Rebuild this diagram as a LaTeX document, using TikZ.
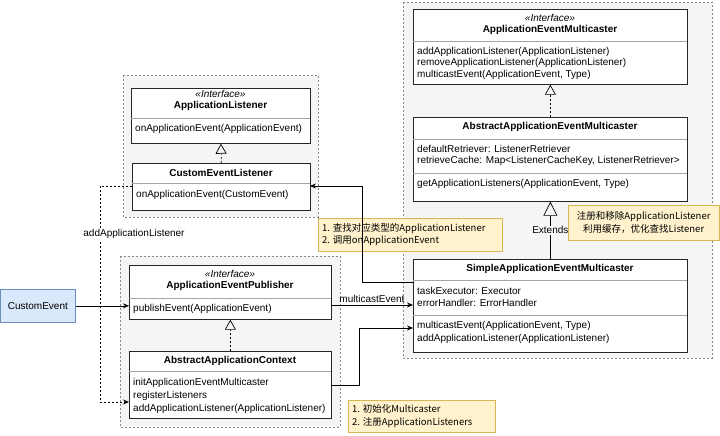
\documentclass[tikz,border=0pt]{standalone}
\usepackage{fontspec}
\setmainfont{Liberation Sans}
\newfontfamily\cjk{Noto Sans CJK SC}
\usetikzlibrary{arrows.meta}
\definecolor{grpfill}{HTML}{F5F5F5}
\definecolor{grpline}{HTML}{888888}
\definecolor{notefill}{HTML}{FFF2CC}
\definecolor{noteline}{HTML}{D6B656}
\definecolor{evfill}{HTML}{DAE8FC}
\definecolor{evline}{HTML}{6C8EBF}
\tikzset{
  group/.style={draw=grpline,fill=grpfill,dashed,dash pattern=on 2pt off 2pt},
  cls/.style={draw=black!85,fill=white,line width=0.7pt},
  sep/.style={draw=black!35,line width=0.5pt},
  txt/.style={anchor=west,inner sep=0pt,font=\fontsize{10}{12}\selectfont},
  title/.style={inner sep=0pt,font=\fontsize{10}{12}\selectfont\bfseries},
  iface/.style={inner sep=0pt,font=\fontsize{10}{12}\selectfont\itshape},
  note/.style={draw=noteline,fill=notefill,inner sep=0pt},
  flow/.style={-{Stealth[length=6pt,width=5pt]},line width=0.7pt},
  realize/.style={dashed,dash pattern=on 2pt off 2pt,line width=0.7pt,-{Triangle[open,length=10pt,width=11pt]}},
  extend/.style={line width=0.7pt,-{Triangle[open,length=14pt,width=14pt]}},
}
\newcommand\ifc{\textless\textless Interface\textgreater\textgreater}
\begin{document}
\begin{tikzpicture}[x=1pt,y=-1pt]
\useasboundingbox (0,0) rectangle (720,436);
% groups
\draw[group] (123,75) rectangle (318,217);
\draw[group] (120,256) rectangle (340,427);
\draw[group] (403,2) rectangle (712,358);
% listener side
\node[cls,minimum width=179pt,minimum height=55pt,anchor=north west] (al) at (131,88) {};
\draw[sep] (131,118) -- (310,118);
\node[iface] (alI) at (220.5,94) {\ifc};
\node[title] (alT) at (220.5,106) {ApplicationListener};
\node[txt] (alM) at (135,129) {onApplicationEvent(ApplicationEvent)};
\node[cls,minimum width=178pt,minimum height=47pt,anchor=north west] (cel) at (132,163) {};
\draw[sep] (132,183) -- (310,183);
\node[title] (celT) at (221,173) {CustomEventListener};
\node[txt] (celM) at (136,195) {onApplicationEvent(CustomEvent)};
\draw[realize] (cel.north) -- (al.south);
% publisher side
\node[cls,minimum width=202pt,minimum height=54pt,anchor=north west] (aep) at (129,265) {};
\draw[sep] (129,298) -- (331,298);
\node[iface] (aepI) at (230,274) {\ifc};
\node[title] (aepT) at (230,286) {ApplicationEventPublisher};
\node[txt] (aepM) at (133,309) {publishEvent(ApplicationEvent)};
\node[cls,minimum width=202pt,minimum height=67pt,anchor=north west] (aac) at (129,351) {};
\draw[sep] (129,371) -- (331,371);
\node[title] (aacT) at (230,361) {AbstractApplicationContext};
\node[txt] (aacM1) at (133,383) {initApplicationEventMulticaster};
\node[txt] (aacM2) at (133,396) {registerListeners};
\node[txt] (aacM3) at (133,409) {addApplicationListener(ApplicationListener)};
\draw[realize] (aac.north) -- (aep.south);
% multicaster side
\node[cls,minimum width=274pt,minimum height=75pt,anchor=north west] (aem) at (413,9) {};
\draw[sep] (413,41) -- (687,41);
\node[iface] (aemI) at (550,18) {\ifc};
\node[title] (aemT) at (550,30) {ApplicationEventMulticaster};
\node[txt] (aemM1) at (417,52) {addApplicationListener(ApplicationListener)};
\node[txt] (aemM2) at (417,63) {removeApplicationListener(ApplicationListener)};
\node[txt] (aemM3) at (417,75) {multicastEvent(ApplicationEvent, Type)};
\node[cls,minimum width=274pt,minimum height=84pt,anchor=north west] (aaem) at (413,117) {};
\draw[sep] (413,139) -- (687,139);
\draw[sep] (413,173) -- (687,173);
\node[title] (aaemT) at (550,127) {AbstractApplicationEventMulticaster};
\node[txt] (aaemF1) at (417,149) {defaultRetriever: ListenerRetriever};
\node[txt] (aaemF2) at (417,161) {retrieveCache: Map<ListenerCacheKey, ListenerRetriever>};
\node[txt] (aaemM) at (417,184) {getApplicationListeners(ApplicationEvent, Type)};
\draw[realize] (aaem.north) -- (aem.south);
\node[cls,minimum width=274pt,minimum height=93pt,anchor=north west] (saem) at (413,259) {};
\draw[sep] (413,280) -- (687,280);
\draw[sep] (413,315) -- (687,315);
\node[title] (saemT) at (550,269) {SimpleApplicationEventMulticaster};
\node[txt] (saemF1) at (417,291) {taskExecutor: Executor};
\node[txt] (saemF2) at (417,303) {errorHandler: ErrorHandler};
\node[txt] (saemM1) at (417,326) {multicastEvent(ApplicationEvent, Type)};
\node[txt] (saemM2) at (417,339) {addApplicationListener(ApplicationListener)};
\draw[extend] (saem.north) -- node[fill=grpfill,inner sep=1pt,font=\fontsize{10}{12}\selectfont] {Extends} (aaem.south);
% event and notes
\node[draw=evline,fill=evfill,line width=0.7pt,minimum width=75pt,minimum height=33pt,anchor=north west,font=\fontsize{10}{12}\selectfont] (ev) at (0,289) {CustomEvent};
\node[note,minimum width=184pt,minimum height=33pt,anchor=north west] (n1) at (318,218) {};
\node[txt,font=\cjk\fontsize{9.5}{12.5}\selectfont,align=left] (n1T) at (322,234.5) {1. 查找对应类型的ApplicationListener\\2. 调用onApplicationEvent};
\node[note,minimum width=151pt,minimum height=35pt,anchor=north west,font=\cjk\fontsize{9.5}{12.5}\selectfont,align=center] (n2) at (568,205) {注册和移除ApplicationListener\\利用缓存，优化查找Listener};
\node[note,minimum width=147pt,minimum height=32pt,anchor=north west] (n3) at (348,400) {};
\node[txt,font=\cjk\fontsize{9.5}{12.5}\selectfont,align=left] (n3T) at (352,416) {1. 初始化Multicaster\\2. 注册ApplicationListeners};
% connectors
\coordinate (pubR) at (331,305);
\coordinate (mcL) at (413,305);
\coordinate (ctxR) at (331,385);
\coordinate (regL) at (413,328);
\coordinate (saemL) at (413,282);
\coordinate (celR) at (310,186);
\coordinate (celL) at (132,186);
\coordinate (aacL) at (129,402);
\draw[flow] (ev.east) -- (ev.east -| aep.west);
\draw[flow] (pubR) -- node[above,inner sep=2pt,font=\fontsize{10}{12}\selectfont] (mcLbl) {multicastEvent} (mcL);
\draw[flow] (ctxR) -- (359,385) |- (regL);
\draw[flow] (saemL) -- (362,282) |- (celR);
\draw[flow,dashed,dash pattern=on 2pt off 2pt] (celL) -- (100,186) |- (aacL);
\node[fill=white,inner sep=1pt,font=\fontsize{10}{12}\selectfont] (addLbl) at (134,234) {addApplicationListener};
\end{tikzpicture}
\end{document}
